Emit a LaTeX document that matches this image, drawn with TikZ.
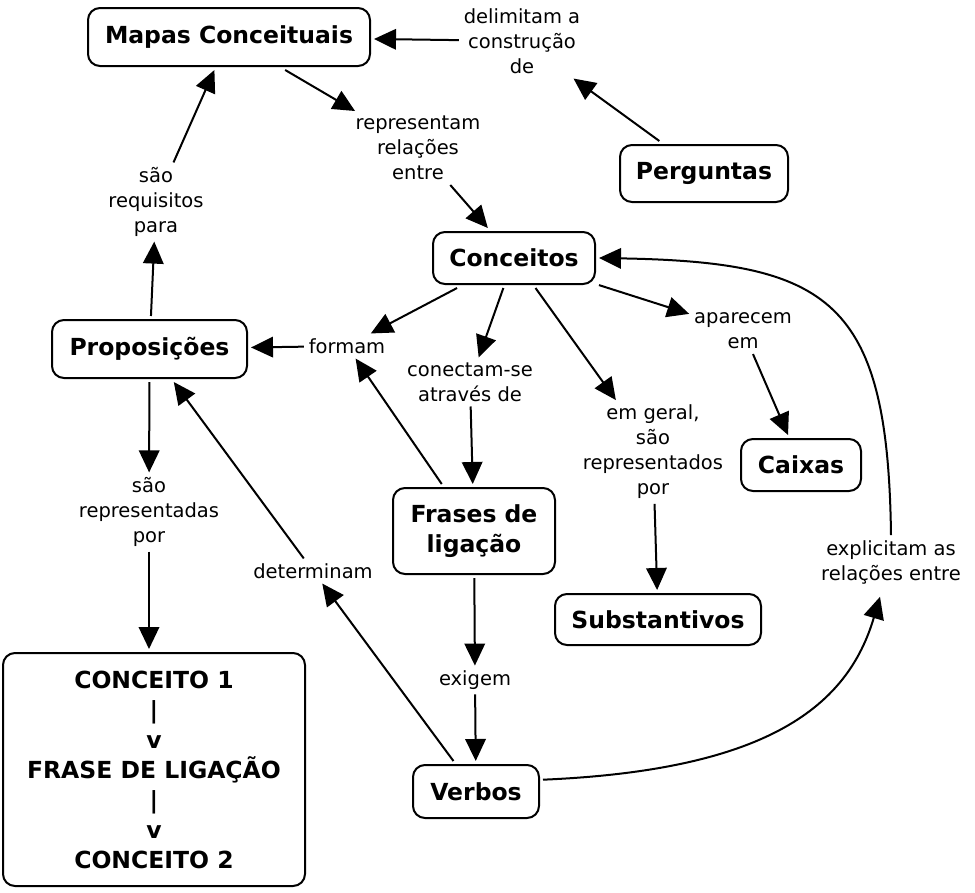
\documentclass[tikz,border=0pt]{standalone}
\usepackage{fontspec}
\setmainfont{DejaVu Sans}
\usetikzlibrary{arrows.meta,calc}
\begin{document}
\begin{tikzpicture}[x=1pt,y=-1pt,
  concept/.style={draw, line width=2pt, rounded corners=12pt, inner sep=0pt, outer sep=4pt, align=center, font=\fontsize{23.5}{30}\selectfont\bfseries},
  lbl/.style={inner sep=2pt, outer sep=3pt, align=center, font=\fontsize{19.5}{25}\selectfont},
  link/.style={line width=2pt, -{Triangle[length=22pt,width=20.5pt]}},
]
\useasboundingbox (0,0) rectangle (975,892);

% concepts
\node[concept, minimum width=282pt, minimum height=58pt] (mapas) at (229,37) {Mapas Conceituais};
\node[concept, minimum width=168pt, minimum height=57pt] (perg) at (704,173.5) {Perguntas};
\node[concept, minimum width=162pt, minimum height=52pt] (conc) at (514,258) {Conceitos};
\node[concept, minimum width=195pt, minimum height=58pt] (prop) at (149.5,349) {Proposições};
\node[concept, minimum width=120pt, minimum height=52pt] (caixas) at (801,465) {Caixas};
\node[concept, minimum width=162pt, minimum height=86pt] (frases) at (474,531) {Frases de\\ligação};
\node[concept, minimum width=206pt, minimum height=51pt] (subst) at (658,619.5) {Substantivos};
\node[concept, minimum width=126pt, minimum height=53pt] (verbos) at (476,791.5) {Verbos};
\node[concept, minimum width=302pt, minimum height=233pt] (modelo) at (154,769.5) {CONCEITO 1\\|\\v\\FRASE DE LIGAÇÃO\\|\\v\\CONCEITO 2};

% linking phrases
\node[lbl] (delim) at (522,41) {delimitam a\\construção\\de};
\node[lbl] (repr) at (418,148) {representam\\relações\\entre};
\node[lbl] (sreq) at (156,202) {são\\requisitos\\para};
\node[lbl] (formam) at (347,346) {formam};
\node[lbl] (conect) at (470,382) {conectam-se\\através de};
\node[lbl] (apar) at (743,331) {aparecem\\em};
\node[lbl] (emger) at (653,452) {em geral,\\são\\representados\\por};
\node[lbl] (srep) at (149,512) {são\\representadas\\por};
\node[lbl] (determ) at (313,571) {determinam};
\node[lbl] (exigem) at (475,680) {exigem};
\node[lbl] (explic) at (891,562) {explicitam as\\relações entre};

\coordinate (explicin) at ($(explic.south)+(-11,8)$);

% connectors
\draw[link] (perg) -- (delim);
\draw[link] (delim) -- (mapas);
\draw[link] (mapas) -- (repr);
\draw[link] (repr) -- (conc);
\draw[link] (conc) -- (formam);
\draw[link] (formam) -- (prop);
\draw[link] (conc) -- (conect);
\draw[link] (conect) -- (frases);
\draw[link] (conc) -- (emger);
\draw[link] (emger) -- (subst);
\draw[link] (conc) -- (apar);
\draw[link] (apar) -- (caixas);
\draw[link] (prop) -- (sreq);
\draw[link] (sreq) -- (mapas);
\draw[link] (prop) -- (srep);
\draw[link] (srep) -- (srep |- modelo.north);
\draw[link] (frases) -- (formam);
\draw[link] (frases) -- (exigem);
\draw[link] (exigem) -- (verbos);
\draw[link] (verbos) -- (determ);
\draw[link] (determ) -- (prop);
\draw[link] (verbos.10) .. controls (770,770) and (848,705) .. (explicin);
\draw[link] (explic.north) .. controls (888,300) and (830,262) .. (conc.east);
\end{tikzpicture}
\end{document}
